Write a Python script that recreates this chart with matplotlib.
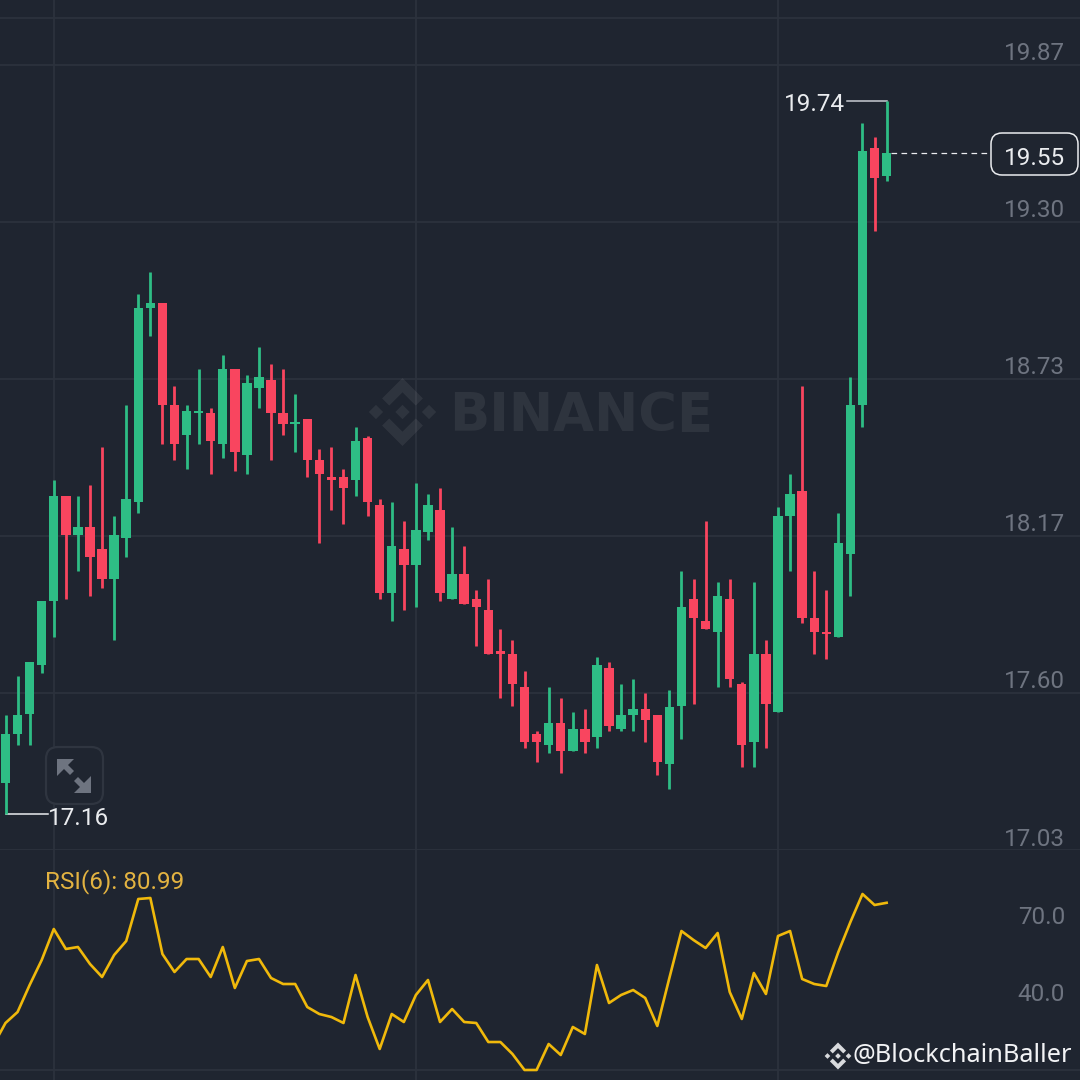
import matplotlib
matplotlib.use("Agg")
import matplotlib.pyplot as plt
from matplotlib.patches import FancyBboxPatch, Polygon

BG = "#1F2530"
GRID = "#2C323D"
GREEN = "#2EBD85"
RED = "#F9455F"
YELLOW = "#F0B90B"
TICK = "#6E7480"
WHITE = "#EAECEF"

# candle values, oldest first
opens = [
    17.272, 17.450, 17.522, 17.699, 17.931, 18.311, 18.170, 18.199, 18.119, 18.011,
    18.159, 18.289, 18.991, 19.009, 18.640, 18.531, 18.611, 18.611, 18.499, 18.770,
    18.459, 18.702, 18.731, 18.611, 18.571, 18.589, 18.441, 18.380, 18.380, 18.369,
    18.521, 18.278, 17.960, 18.119, 18.061, 18.180, 18.260, 17.938, 18.029, 17.938,
    17.898, 17.750, 17.739, 17.620, 17.450, 17.410, 17.489, 17.388, 17.468, 17.439,
    17.688, 17.468, 17.518, 17.540, 17.518, 17.341, 17.551, 17.938, 17.859, 17.819,
    17.938, 17.631, 17.421, 17.739, 17.529, 18.238, 18.329, 17.869, 17.819, 17.801,
    18.101, 18.640, 19.570, 19.469,
]
closes = [
    17.450, 17.518, 17.710, 17.931, 18.311, 18.170, 18.199, 18.090, 18.011, 18.170,
    18.300, 18.991, 19.009, 18.640, 18.499, 18.618, 18.618, 18.510, 18.770, 18.470,
    18.720, 18.741, 18.611, 18.571, 18.578, 18.441, 18.390, 18.369, 18.340, 18.510,
    18.289, 17.960, 18.130, 18.061, 18.188, 18.278, 17.960, 18.029, 17.920, 17.909,
    17.739, 17.739, 17.631, 17.421, 17.421, 17.489, 17.388, 17.468, 17.421, 17.699,
    17.479, 17.518, 17.540, 17.500, 17.348, 17.547, 17.909, 17.869, 17.830, 17.949,
    17.649, 17.410, 17.739, 17.558, 18.238, 18.318, 17.869, 17.819, 17.811, 18.141,
    18.640, 19.559, 19.461, 19.552,
]
highs = [
    17.518, 17.660, 17.710, 17.931, 18.369, 18.311, 18.311, 18.351, 18.488, 18.238,
    18.640, 19.042, 19.121, 19.009, 18.709, 18.640, 18.770, 18.629, 18.821, 18.770,
    18.749, 18.850, 18.788, 18.770, 18.680, 18.589, 18.481, 18.488, 18.408, 18.560,
    18.528, 18.300, 18.289, 18.220, 18.358, 18.318, 18.340, 18.199, 18.130, 17.971,
    18.011, 17.830, 17.790, 17.678, 17.461, 17.620, 17.580, 17.529, 17.540, 17.728,
    17.710, 17.631, 17.649, 17.598, 17.518, 17.609, 18.039, 18.011, 18.220, 18.000,
    18.011, 17.638, 18.000, 17.790, 18.271, 18.390, 18.709, 18.039, 17.971, 18.249,
    18.741, 19.660, 19.610, 19.740,
]
lows = [
    17.160, 17.410, 17.410, 17.670, 17.801, 17.938, 18.039, 17.949, 17.978, 17.790,
    18.090, 18.249, 18.890, 18.499, 18.441, 18.408, 18.499, 18.390, 18.448, 18.401,
    18.390, 18.629, 18.441, 18.531, 18.470, 18.380, 18.141, 18.260, 18.209, 18.311,
    18.238, 17.938, 17.859, 17.898, 17.909, 18.152, 17.931, 17.938, 17.920, 17.768,
    17.739, 17.580, 17.551, 17.399, 17.348, 17.381, 17.309, 17.388, 17.381, 17.399,
    17.461, 17.461, 17.461, 17.421, 17.301, 17.251, 17.432, 17.558, 17.830, 17.620,
    17.620, 17.330, 17.330, 17.399, 17.529, 18.039, 17.851, 17.739, 17.721, 17.801,
    17.949, 18.560, 19.270, 19.450,
]
# one more value than candles: the line comes in from a bar left of the frame
rsi_values = [
    25.60,
    34.16, 38.44, 48.96, 58.70, 70.78, 62.99, 63.77, 57.14, 52.08, 60.65,
    66.10, 82.47, 82.86, 61.04, 54.03, 59.09, 59.09, 52.08, 63.77, 47.79,
    58.31, 59.09, 51.69, 49.35, 49.35, 40.39, 37.66, 36.49, 34.16, 52.86,
    36.49, 24.03, 37.66, 34.55, 45.07, 50.91, 34.55, 39.61, 34.55, 34.16,
    26.75, 26.75, 22.08, 15.85, 15.85, 25.98, 21.69, 32.60, 29.87, 56.75,
    41.95, 45.07, 47.01, 43.90, 32.99, 51.69, 70.00, 66.49, 63.38, 69.22,
    46.23, 35.72, 53.64, 45.46, 68.05, 70.00, 51.30, 49.35, 48.57, 61.82,
    73.51, 84.42, 80.13, 80.99,
]

price_ticks = [19.87, 19.302, 18.734, 18.166, 17.598, 17.03]
rsi_ticks = [70.0, 40.0]
vertical_grid = [4, 34, 64]
last_price = 19.55

XLIM = (-0.456, 89.02)
FONT = "Roboto"
LOGO_CHEVRON = [(0, -1), (0.6, -0.4), (0.39, -0.19), (0, -0.58), (-0.39, -0.19), (-0.6, -0.4)]
LOGO_SQUARE = [(0, -0.21), (0.21, 0), (0, 0.21), (-0.21, 0)]


def draw_logo(ax, cx, cy, size, color, alpha=1.0):
    shapes = [
        LOGO_CHEVRON,
        [(x, -y) for x, y in LOGO_CHEVRON],
        LOGO_SQUARE,
        [(x - 0.78, y) for x, y in LOGO_SQUARE],
        [(x + 0.78, y) for x, y in LOGO_SQUARE],
    ]
    for shape in shapes:
        pts = [(cx + x * size, cy + y * size) for x, y in shape]
        ax.add_patch(Polygon(pts, closed=True, fc=color, ec="none", alpha=alpha))


def draw_candles(ax):
    xs = list(range(len(opens)))
    colors = [GREEN if c >= o else RED for o, c in zip(opens, closes)]
    ax.vlines(xs, lows, highs, colors=colors, linewidth=2.0, zorder=3)
    bottoms = [min(o, c) for o, c in zip(opens, closes)]
    heights = [abs(c - o) for o, c in zip(opens, closes)]
    ax.bar(xs, heights, bottom=bottoms, width=0.78, color=colors, zorder=4)


def draw_price_panel(ax):
    ax.set_xlim(*XLIM)
    ax.set_ylim(17.03, 20.105)
    ax.set_axis_off()

    ax.axhline(20.04, color=GRID, linewidth=1.3, zorder=1)
    for tick in price_ticks:
        ax.axhline(tick, color=GRID, linewidth=1.3, zorder=1)
        ax.annotate(
            f"{tick:.2f}", xy=(1, tick), xycoords=ax.get_yaxis_transform(),
            xytext=(-15, 11), textcoords="offset pixels",
            ha="right", va="center", color=TICK, fontsize=17.5, family=FONT,
        )
    for x in vertical_grid:
        ax.axvline(x, color=GRID, linewidth=1.3, zorder=1)

    draw_candles(ax)

    # high / low markers
    hi = highs.index(max(highs))
    lo = lows.index(min(lows))
    ax.plot([hi - 3.3, hi], [highs[hi]] * 2, color="#C8CCD2", linewidth=1.1, zorder=2)
    ax.annotate(
        f"{highs[hi]:.2f}", xy=(hi - 3.3, highs[hi]), xytext=(-2, -4),
        textcoords="offset pixels", ha="right", va="center",
        color=WHITE, fontsize=17.5, family=FONT,
    )
    ax.plot([lo, lo + 3.5], [lows[lo]] * 2, color=WHITE, linewidth=1.1, zorder=2)
    ax.annotate(
        f"{lows[lo]:.2f}", xy=(lo + 3.5, lows[lo]), xytext=(0, -4),
        textcoords="offset pixels", ha="left", va="center",
        color=WHITE, fontsize=17.5, family=FONT,
    )

    # last price guide
    ax.plot(
        [len(opens) - 1 + 0.4, 81.6], [last_price] * 2, color=WHITE,
        linewidth=0.9, dashes=(4.5, 3.5), zorder=2,
    )


def draw_rsi_panel(ax):
    ax.set_xlim(*XLIM)
    ax.set_ylim(11.95, 101.56)
    ax.set_axis_off()

    ax.axhline(15.85, color=GRID, linewidth=1.3, zorder=1)
    for x in vertical_grid:
        ax.axvline(x, color=GRID, linewidth=1.3, zorder=1)
    for tick in rsi_ticks:
        ax.annotate(
            f"{tick:.1f}", xy=(1, tick), xycoords=ax.get_yaxis_transform(),
            xytext=(-15, 14), textcoords="offset pixels",
            ha="right", va="center", color=TICK, fontsize=17.5, family=FONT,
        )

    ax.plot(range(-1, len(opens)), rsi_values, color=YELLOW, linewidth=1.9, zorder=3)
    ax.text(
        0.0415, 0.865, f"RSI(6): {rsi_values[-1]:.2f}", transform=ax.transAxes,
        ha="left", va="center", color="#E3B341", fontsize=17.5, family=FONT,
    )


def draw_overlay(ax):
    ax.set_xlim(0, 1080)
    ax.set_ylim(1080, 0)
    ax.set_axis_off()

    # watermark
    draw_logo(ax, 402.5, 412, 34, "white", alpha=0.07)
    ax.text(
        449, 431, "BINANCE", color="white", alpha=0.07, fontsize=38,
        fontweight="bold", family="DejaVu Sans", ha="left", va="baseline",
    )

    # last price box
    ax.add_patch(FancyBboxPatch(
        (991, 133), 87, 42, boxstyle="round,pad=0,rounding_size=11",
        fc=BG, ec=WHITE, linewidth=1.1, zorder=5,
    ))
    ax.text(
        1035, 158.5, f"{last_price:.2f}", color=WHITE, fontsize=17.5, family=FONT,
        ha="center", va="center", zorder=6,
    )

    # expand button
    ax.add_patch(FancyBboxPatch(
        (46, 747), 57, 57, boxstyle="round,pad=0,rounding_size=12",
        fc=BG, ec="#2F3540", linewidth=1.6, zorder=5,
    ))
    arrow = [(57, 759), (74, 759), (68, 765), (74, 771), (70, 775), (64, 769), (57, 776)]
    ax.add_patch(Polygon(arrow, closed=True, fc="#6E7480", ec="none", zorder=6))
    ax.add_patch(Polygon(
        [(148 - x, 1552 - y) for x, y in arrow], closed=True, fc="#6E7480", ec="none", zorder=6,
    ))

    # author tag
    draw_logo(ax, 838, 1056, 13.5, "#D8DADD")
    ax.text(
        1072, 1056, "@BlockchainBaller", color="#F2F3F5", fontsize=18.2,
        family="Noto Sans", ha="right", va="center",
    )


def main():
    fig = plt.figure(figsize=(10.8, 10.8), dpi=100, facecolor=BG)
    price_ax = fig.add_axes([0, 230 / 1080, 1, 850 / 1080])
    rsi_ax = fig.add_axes([0, 0, 1, 230 / 1080])
    overlay_ax = fig.add_axes([0, 0, 1, 1])

    draw_price_panel(price_ax)
    draw_rsi_panel(rsi_ax)
    draw_overlay(overlay_ax)

    fig.savefig("out.png", dpi=100, facecolor=BG)


if __name__ == "__main__":
    main()
